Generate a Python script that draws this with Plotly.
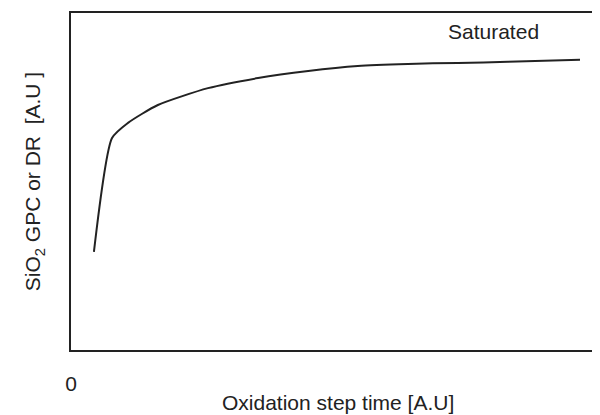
import plotly.graph_objects as go

# curve (arbitrary units, 0-100 axes)
time_au = [4.3, 7.7, 10.7, 16.3, 25.7, 35.1, 44.5, 53.8, 63.2, 72.6, 82.0, 95.5]
gpc_au = [29.1, 62.9, 67.4, 72.7, 77.7, 80.7, 82.8, 84.3, 84.9, 85.2, 85.5, 86.1]

fig = go.Figure()
fig.add_scatter(
    x=time_au, y=gpc_au, mode="lines",
    line=dict(color="#222", width=2, shape="spline", smoothing=0.6),
    hoverinfo="skip"
)
fig.add_annotation(
    x=79.2, y=94.4, text="Saturated", showarrow=False,
    font=dict(size=21, color="#222")
)
# axis titles placed by hand so the margins stay fixed
fig.add_annotation(
    xref="paper", yref="paper", x=0.5, y=-0.155, yanchor="middle",
    text="Oxidation step time [A.U]", showarrow=False,
    font=dict(size=21, color="#222")
)
fig.add_annotation(
    xref="paper", yref="paper", x=-0.07, y=0.5, xanchor="center",
    text="SiO<sub>2</sub> GPC or DR  [A.U ]", showarrow=False, textangle=-90,
    font=dict(size=21, color="#222")
)
fig.update_layout(
    width=600, height=415,
    margin=dict(l=63, r=4, t=5, b=73, autoexpand=False),
    paper_bgcolor="white", plot_bgcolor="white",
    showlegend=False,
    font=dict(family="Liberation Sans, Arial, sans-serif", size=21, color="#222")
)
fig.update_xaxes(
    range=[0, 100], showgrid=False, zeroline=False, automargin=False,
    showline=True, mirror=True, linecolor="#222", linewidth=2,
    tickvals=[0], ticktext=["0"], ticks="", ticklabelstandoff=14
)
fig.update_yaxes(
    range=[0, 100], showgrid=False, zeroline=False, automargin=False,
    showline=True, mirror=True, linecolor="#222", linewidth=2,
    showticklabels=False, ticks=""
)
fig.write_html("out.html")
